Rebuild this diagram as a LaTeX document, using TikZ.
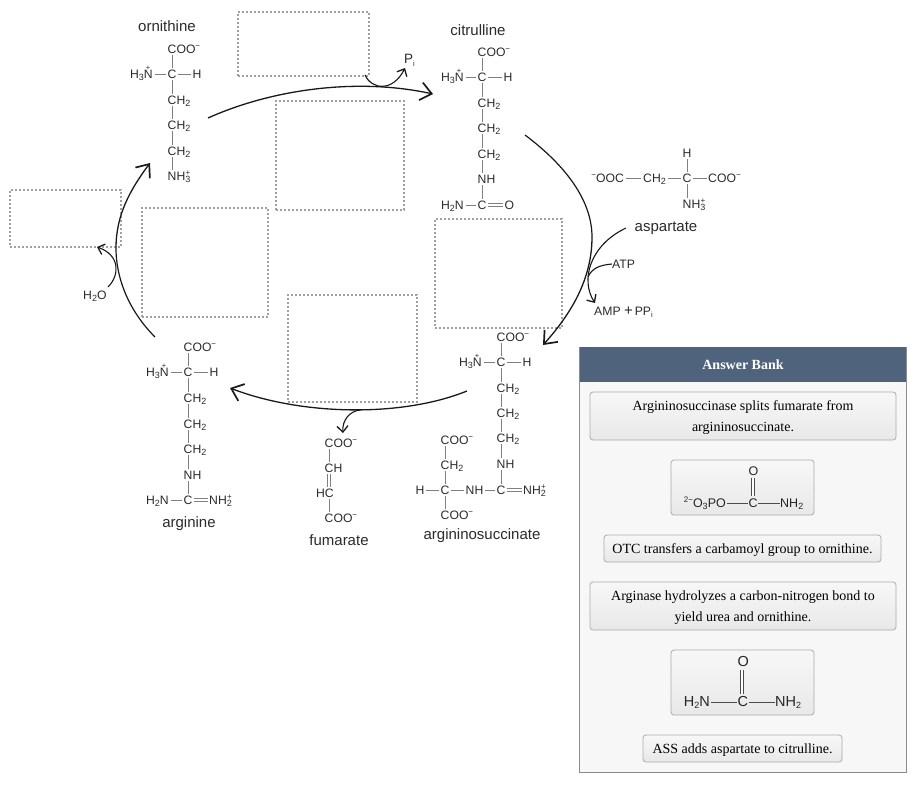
\documentclass[tikz,border=0pt]{standalone}
\usepackage{fontspec}
\setmainfont{Liberation Sans}
\newfontfamily\serifbank{Liberation Serif}
\usetikzlibrary{arrows.meta,calc}
\definecolor{ink}{HTML}{2B2B2B}
\definecolor{bondc}{HTML}{808080}
\definecolor{slotc}{HTML}{A0A0A0}
\definecolor{headc}{HTML}{50637D}
\newcommand\dn[1]{\raisebox{-2.5pt}{\fontsize{9}{9}\selectfont #1}}
\newcommand\up[1]{\raisebox{4.5pt}{\fontsize{8}{8}\selectfont #1}}
\newcommand\coo{COO\rlap{\up{−}}}
\newcommand\hthreen{H\dn{3}\rlap{\raisebox{8pt}{\kern2pt\fontsize{7.5}{7.5}\selectfont +}}N}
\newcommand\nhthree{NH\dn{3}\llap{\up{+}}}
\newcommand\chtwo{CH\dn{2}}
\newcommand\nhtwop{NH\dn{2}\llap{\up{+}}}
\newcommand\atm[5][atom]{\node[#1,anchor=west] (#2) at ({#3-4.5},#4) {#5}; \coordinate (#2-c) at (#3,#4);}
\newcommand\atr[5][atom]{\node[#1,anchor=east] (#2) at (#3,#4) {#5}; \coordinate (#2-c) at (#3,#4);}
\newcommand\vb[2]{\draw[bond,shorten <=6,shorten >=6] (#1-c) -- (#2-c);}
\newcommand\hb[2]{\draw[bond,shorten <=1.5,shorten >=1.5] (#1.east) -- (#2.west);}
\newcommand\slot[5]{\node[slotbox,minimum width={#4-#2},minimum height={#5-#3}] (#1) at ({(#2+#4)/2},{(#3+#5)/2}) {};}
\newcommand\btn[6]{\node[button,minimum width={#4-#2},minimum height={#5-#3}] (#1) at ({(#2+#4)/2},{(#3+#5)/2}) {};
  \node[btntext] (#1t) at ({(#2+#4)/2},{(#3+#5)/2+1.8}) {#6};}
\tikzset{
  atom/.style={inner sep=0pt,text height=8.6pt,text depth=0pt,text=ink,font=\fontsize{12.2}{14}\selectfont},
  atomb/.style={atom,text=black!85,font=\fontsize{12.5}{14}\selectfont},
  atomc/.style={atom,text=black!85,font=\fontsize{14.5}{16}\selectfont},
  label/.style={inner sep=0pt,text=ink,font=\fontsize{15}{16}\selectfont},
  small/.style={inner sep=0pt,text=ink,font=\fontsize{12.2}{14}\selectfont},
  bond/.style={draw=bondc,line width=.9pt},
  bbond/.style={draw=black!70,line width=1pt},
  slotbox/.style={draw=slotc,line width=1.5pt,dash pattern=on 2pt off 2pt,inner sep=0pt},
  button/.style={draw=black!33,line width=.8pt,rounded corners=3pt,top color=white!97!black,bottom color=black!9,inner sep=0pt},
  btntext/.style={inner sep=0pt,align=center,text=black,font=\serifbank\fontsize{14}{21}\selectfont},
  rxn/.style={draw=black!90,line width=1.3pt,-{Straight Barb[length=11pt,width=18pt,line width=1.7pt]}},
  rxnplain/.style={draw=black!90,line width=1.2pt},
  side/.style={draw=black!90,line width=1.1pt,-{Straight Barb[length=6pt,width=11pt,line width=1.3pt]}},
  sideplain/.style={draw=black!90,line width=1.1pt},
}
\begin{document}
\begin{tikzpicture}[x=1pt,y=-1pt]
\useasboundingbox (0,0) rectangle (920,798);
\fill[white] (0,0) rectangle (920,798);

% answer slots
\slot{s1}{238}{12}{369}{76}
\slot{s2}{276}{101}{404}{210}
\slot{s3}{142}{208}{268}{317}
\slot{s4}{10}{190}{121}{247}
\slot{s5}{435}{219}{562}{328}
\slot{s6}{288}{295}{417}{402}

% ornithine
\node[label] (lo) at (167,26) {ornithine};
\atm{o1}{172}{49}{\coo}
\atm{o2}{172}{74}{C}
\atm{o3}{172}{100}{\chtwo}
\atm{o4}{172}{125}{\chtwo}
\atm{o5}{172}{151}{\chtwo}
\atm{o6}{172}{176}{\nhthree}
\atr{oa}{153}{74}{\hthreen}
\atm{ob}{197}{74}{H}
\vb{o1}{o2}\vb{o2}{o3}\vb{o3}{o4}\vb{o4}{o5}\vb{o5}{o6}\hb{oa}{o2}\hb{o2}{ob}

% citrulline
\node[label] (lc) at (478,30) {citrulline};
\atm{c1}{482}{52}{\coo}
\atm{c2}{482}{77}{C}
\atm{c3}{482}{103}{\chtwo}
\atm{c4}{482}{128}{\chtwo}
\atm{c5}{482}{154}{\chtwo}
\atm{c6}{482}{179}{NH}
\atm{c7}{482}{205}{C}
\atr{ca}{464}{77}{\hthreen}
\atm{cb}{508}{77}{H}
\atr{cc}{464}{205}{H\dn{2}N}
\atm{cd}{509}{205}{O}
\vb{c1}{c2}\vb{c2}{c3}\vb{c3}{c4}\vb{c4}{c5}\vb{c5}{c6}\vb{c6}{c7}\hb{ca}{c2}\hb{c2}{cb}\hb{cc}{c7}
\draw[bond,double,double distance=2pt,shorten <=1.5,shorten >=1.5] (c7.east) -- (cd.west);

% aspartate
\atm{a1}{687}{153}{H}
\atm{a2}{687}{178}{C}
\atm{a3}{687}{204}{\nhthree}
\atr{a4}{624}{178}{\up{−}OOC}
\node[atom,anchor=west] (a5) at (643,178) {\chtwo};
\node[atom,anchor=west] (a6) at (708,178) {\coo};
\vb{a1}{a2}\vb{a2}{a3}
\draw[bond,shorten <=2,shorten >=2] (a4.east) -- (a5.west);
\hb{a5}{a2}\hb{a2}{a6}
\node[label] (la) at (666,228) {aspartate};
\node[small,anchor=west] (atp) at (612,264) {ATP};
\node[small,anchor=west] (amp) at (594,312) {AMP \fontsize{15}{14}\selectfont +\fontsize{12.2}{14}\selectfont\,PP\raisebox{-2.5pt}{\fontsize{7.5}{7.5}\selectfont i}};

% argininosuccinate
\atm{g1}{501}{337}{\coo}
\atm{g2}{501}{362}{C}
\atm{g3}{501}{388}{\chtwo}
\atm{g4}{501}{413}{\chtwo}
\atm{g5}{501}{438}{\chtwo}
\atm{g6}{501}{464}{NH}
\atm{g7}{501}{490}{C}
\atr{ga}{482}{362}{\hthreen}
\atm{gb}{527}{362}{H}
\node[atom,anchor=west] (gc) at (523,490) {\nhtwop};
\atm{h1}{445}{440}{\coo}
\atm{h2}{445}{465}{\chtwo}
\atm{h3}{445}{490}{C}
\atm{h4}{445}{515}{\coo}
\atm{hh}{420}{490}{H}
\atm{hn}{470}{490}{NH}
\vb{g1}{g2}\vb{g2}{g3}\vb{g3}{g4}\vb{g4}{g5}\vb{g5}{g6}\vb{g6}{g7}\hb{ga}{g2}\hb{g2}{gb}
\draw[bond,double,double distance=2pt,shorten <=1.5,shorten >=1.5] (g7.east) -- (gc.west);
\vb{h1}{h2}\vb{h2}{h3}\vb{h3}{h4}\hb{hh}{h3}\hb{h3}{hn}\hb{hn}{g7}
\node[label] (ls) at (482,536) {argininosuccinate};

% fumarate
\atm{f1}{329}{443}{\coo}
\atm{f2}{329}{468}{CH}
\atr{f3}{334}{493}{HC}
\coordinate (f3-c) at (329,493);
\atm{f4}{329}{518}{\coo}
\vb{f1}{f2}\vb{f3}{f4}
\draw[bond,double,double distance=2pt,shorten <=6,shorten >=6] (f2-c) -- (f3-c);
\node[label] (lf) at (339,540) {fumarate};

% arginine
\atm{r1}{188}{347}{\coo}
\atm{r2}{188}{372}{C}
\atm{r3}{188}{398}{\chtwo}
\atm{r4}{188}{424}{\chtwo}
\atm{r5}{188}{449}{\chtwo}
\atm{r6}{188}{475}{NH}
\atm{r7}{188}{500}{C}
\atr{ra}{169}{372}{\hthreen}
\atm{rb}{214}{372}{H}
\atr{rc}{169}{500}{H\dn{2}N}
\node[atom,anchor=west] (rd) at (209,500) {\nhtwop};
\vb{r1}{r2}\vb{r2}{r3}\vb{r3}{r4}\vb{r4}{r5}\vb{r5}{r6}\vb{r6}{r7}\hb{ra}{r2}\hb{r2}{rb}\hb{rc}{r7}
\draw[bond,double,double distance=2pt,shorten <=1.5,shorten >=1.5] (r7.east) -- (rd.west);
\node[label] (lr) at (189,524) {arginine};

% small labels
\node[small,anchor=west] (pi) at (404,60) {\fontsize{13.5}{14}\selectfont P\raisebox{-3pt}{\fontsize{7.5}{7.5}\selectfont i}};
\node[small,anchor=west] (water) at (83,296) {H\dn{2}O};

% connector ends
\coordinate (t0) at (208,118); \coordinate (t1) at (433,94);
\coordinate (r0) at (525,135); \coordinate (rm) at (592,237); \coordinate (r9) at (543,345);
\coordinate (b0) at (467,391); \coordinate (b1) at (230,388);
\coordinate (l0) at (155,337); \coordinate (lm) at (116,248); \coordinate (l1) at (150,163);
\coordinate (pa) at (365,75); \coordinate (pb) at (405,68);
\coordinate (aa) at (626,228); \coordinate (ab) at (595,303);
\coordinate (ta) at (588,277);
\coordinate (fa) at (360,410); \coordinate (fb) at (343,433);
\coordinate (wa) at (108,287); \coordinate (wb) at (97,247);

% main cycle
\draw[rxn] (t0) .. controls (275,88) and (360,78) .. (t1);
\draw[rxnplain] (r0) .. controls (565,165) and (592,200) .. (rm);
\draw[rxn] (rm) .. controls (592,280) and (570,315) .. (r9);
\draw[rxn] (b0) .. controls (400,418) and (300,415) .. (b1);
\draw[rxnplain] (l0) .. controls (130,312) and (116,280) .. (lm);
\draw[rxn] (lm) .. controls (116,215) and (130,190) .. (l1);

% side arrows
\draw[side] (pa) .. controls (372,90) and (393,92) .. (pb);
\draw[side] (aa) .. controls (590,245) and (580,280) .. (ab);
\draw[sideplain] (atp.west) .. controls (600,265) and (592,268) .. (ta);
\draw[side] (fa) .. controls (350,411) and (342,420) .. (fb);
\draw[side] (wa) .. controls (120,275) and (120,255) .. (wb);

% answer bank
\node[draw=black!45,line width=.8pt,fill=black!3,minimum width=327.5pt,minimum height=425pt,inner sep=0pt] (bank) at (743,559.5) {};
\node[fill=headc,minimum width=326.5pt,minimum height=35pt,inner sep=0pt,text=white,font=\serifbank\bfseries\fontsize{14}{16}\selectfont] (head) at (743,364.5) {Answer Bank};
\btn{b1}{590}{392}{896}{440}{Argininosuccinase splits fumarate from\\argininosuccinate.}
\btn{b2}{671}{460}{814}{515}{}
\btn{b3}{604}{535}{881}{562}{OTC transfers a carbamoyl group to ornithine.}
\btn{b4}{590}{582}{896}{630}{Arginase hydrolyzes a carbon-nitrogen bond to\\yield urea and ornithine.}
\btn{b5}{671}{650}{814}{715}{}
\btn{b6}{643}{735}{842}{762}{ASS adds aspartate to citrulline.}

% carbamoyl phosphate
\atm[atomb]{p1}{753}{471}{O}
\atm[atomb]{p2}{753}{503}{C}
\atr[atomb]{p3}{726}{503}{\up{2−}O\dn{3}PO}
\node[atomb,anchor=west] (p4) at (780,503) {NH\dn{2}};
\draw[bbond,double,double distance=2pt,shorten <=7,shorten >=7] (p1-c) -- (p2-c);
\draw[bbond,shorten <=.5,shorten >=.5] (p3.east) -- (p2.west);
\draw[bbond,shorten <=.5,shorten >=.5] (p2.east) -- (p4.west);

% urea
\atm[atomc]{u1}{742}{662}{O}
\atm[atomc]{u2}{742}{702}{C}
\atr[atomc]{u3}{710}{702}{H\dn{2}N}
\node[atomc,anchor=west] (u4) at (775,702) {NH\dn{2}};
\draw[bbond,double,double distance=2.5pt,shorten <=8,shorten >=8] (u1-c) -- (u2-c);
\draw[bbond,shorten <=.5,shorten >=.5] (u3.east) -- (u2.west);
\draw[bbond,shorten <=.5,shorten >=.5] (u2.east) -- (u4.west);
\end{tikzpicture}
\end{document}
